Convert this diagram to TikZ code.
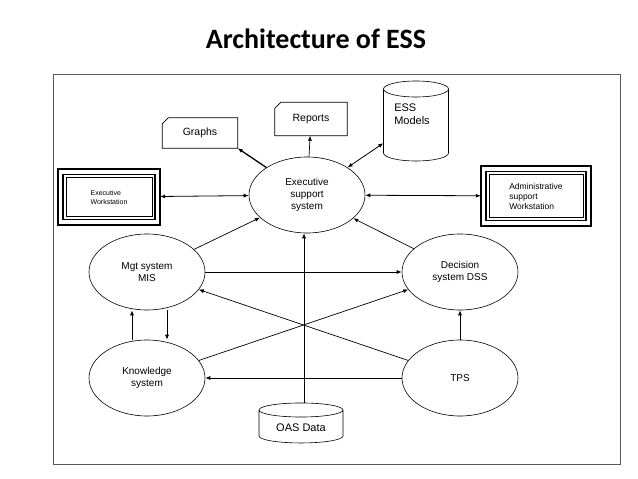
\documentclass[tikz,border=0pt]{standalone}
\usepackage{fontspec}
\setmainfont{Liberation Sans}
\newfontfamily\titlefont{Carlito}
\usetikzlibrary{shapes.geometric,calc,arrows.meta}
\begin{document}
\begin{tikzpicture}[x=1pt,y=-1pt,
  ell/.style={draw,ellipse,minimum width=116pt,minimum height=76pt,align=center,font=\fontsize{10}{12}\selectfont,line width=0.6pt},
  cyl/.style={draw,cylinder,shape border rotate=90,aspect=0.25,align=left,line width=0.6pt},
  doc/.style={align=center,font=\fontsize{10.5}{12}\selectfont},
  arr/.style={-{Latex[length=5pt,width=4pt]},line width=0.7pt},
  darr/.style={{Latex[length=5pt,width=4pt]}-{Latex[length=5pt,width=4pt]},line width=0.8pt}]
\useasboundingbox (0,0) rectangle (638,479);
\node[font=\titlefont\bfseries\fontsize{28}{32}\selectfont] (title) at (316,39) {Architecture of ESS};
\draw[gray!70!black,line width=0.8pt] (53,74) rectangle (620,464);
% ellipses
\node[ell] (ess) at (307,195) {Executive\\support\\system};
\node[ell] (mis) at (147,272) {Mgt system\\MIS};
\node[ell] (dss) at (460,272) {Decision\\system DSS};
\node[ell] (ks) at (147,378) {Knowledge\\system};
\node[ell] (tps) at (460,378) {TPS};
% docs
\node[doc,minimum width=75pt,minimum height=30pt] (gr) at (200,133) {Graphs};
\node[doc,minimum width=72pt,minimum height=33pt] (rep) at (311,119) {Reports};
\foreach \n in {gr,rep}{
  \draw[line width=0.7pt] (\n.south west) -- ($(\n.north west)+(0,6)$) -- ($(\n.north west)+(6,0)$) -- (\n.north east) -- (\n.south east) -- cycle;}
% ESS Models cylinder
\node[minimum width=65pt,minimum height=82pt] (mod) at (416,121) {};
\draw[line width=0.6pt] (416,89) ellipse [x radius=32.5pt, y radius=8pt];
\draw[line width=0.6pt] (383.5,89) -- (383.5,153) arc[start angle=180,end angle=360,x radius=32.5pt,y radius=8pt] -- (448.5,89);
\node[align=left,font=\fontsize{11}{13}\selectfont] (modt) at (412,114) {ESS\\Models};
\node[cyl,minimum width=84pt,minimum height=40pt,font=\fontsize{11}{13}\selectfont] (oas) at (301,428) {OAS Data};
% workstations
\node[minimum width=102pt,minimum height=55pt,align=left,font=\fontsize{7}{9}\selectfont] (ews) at (109,197) {Executive\\Workstation};
\draw[line width=2pt] (ews.south west) rectangle (ews.north east);
\draw[line width=1.5pt] ($(ews.south west)+(5,-5)$) rectangle ($(ews.north east)+(-5,5)$);
\draw[line width=0.5pt] ($(ews.south west)+(8,-8)$) rectangle ($(ews.north east)+(-8,8)$);
\node[minimum width=110pt,minimum height=59pt,align=left,font=\fontsize{8.5}{10}\selectfont] (aws) at (536,196) {Administrative\\support\\Workstation};
\draw[line width=2pt] (aws.south west) rectangle (aws.north east);
\draw[line width=1.5pt] ($(aws.south west)+(5,-5)$) rectangle ($(aws.north east)+(-5,5)$);
\draw[line width=0.5pt] ($(aws.south west)+(8,-8)$) rectangle ($(aws.north east)+(-8,8)$);
% connectors
\draw[arr,line width=1.3pt] (ess) -- (gr.south east);
\draw[arr] (ess) -- (rep);
\draw[darr] (ess) -- (mod);
\draw[darr] (ews) -- (ess);
\draw[darr] (ess) -- (aws);
\draw[arr] (mis) -- (ess);
\draw[arr] (dss) -- (ess);
\draw[arr] (oas.north -| 304,0) -- (ess.south -| 304,0);
\draw[arr] (mis) -- (dss);
\draw[arr] (tps) -- (mis);
\draw[arr] (ks) -- (dss);
\draw[arr] (tps) -- (ks);
\draw[arr] (tps) -- (dss);
\draw[arr] (ks.north -| 132,0) -- (mis.south -| 132,0);
\draw[arr] (mis.south -| 167,0) -- (ks.north -| 167,0);
\end{tikzpicture}
\end{document}
